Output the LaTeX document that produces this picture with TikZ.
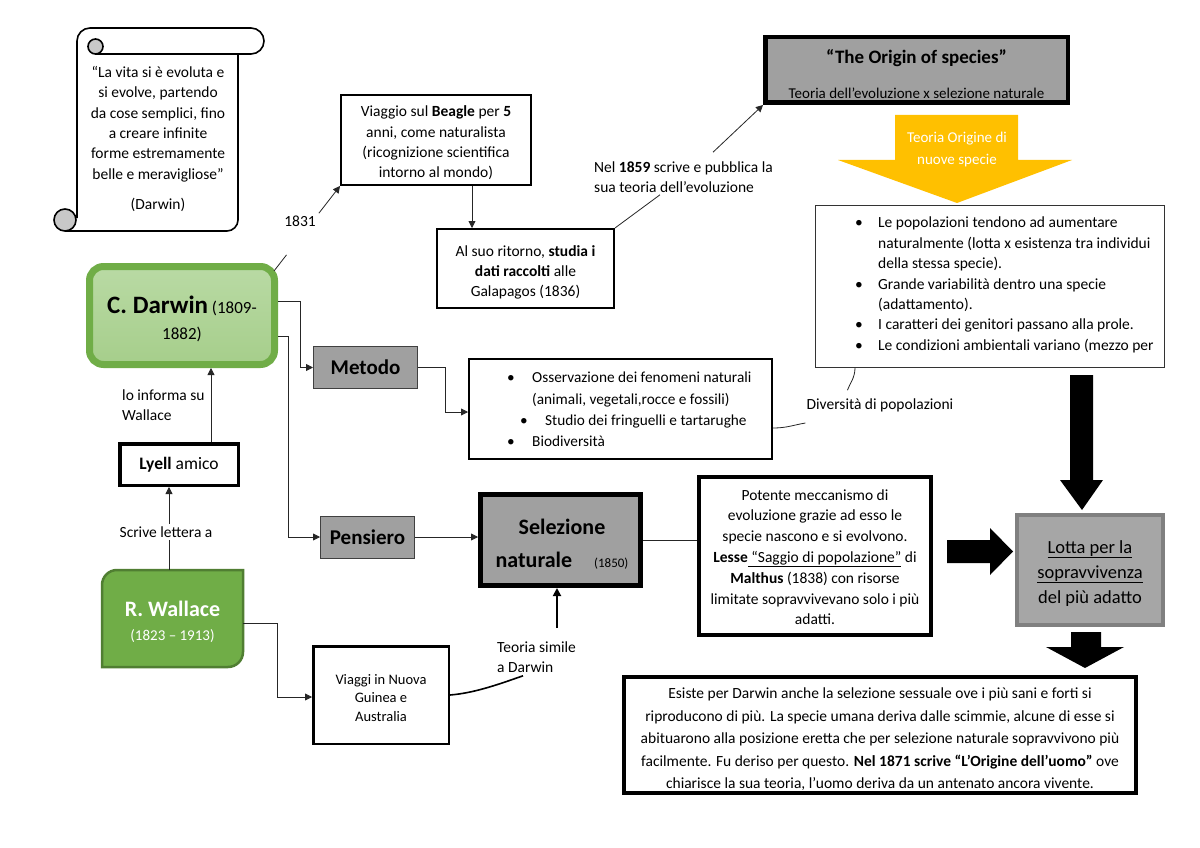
\documentclass[tikz,border=0pt]{standalone}
\usepackage{fontspec}
\setmainfont{Carlito}
\usetikzlibrary{arrows.meta,calc}
\definecolor{dgreen}{HTML}{70AD47}
\definecolor{lgreenT}{HTML}{B9DAA4}
\definecolor{lgreenB}{HTML}{A6CE8B}
\definecolor{wborder}{HTML}{507E32}
\definecolor{boxgray}{HTML}{A0A0A0}
\definecolor{lottagray}{HTML}{A6A6A6}
\definecolor{lottaborder}{HTML}{808080}
\definecolor{ygold}{HTML}{FFC000}
\definecolor{scrollgray}{HTML}{C8C8C8}
\newcommand\fsz[2]{\fontsize{#1}{#2}\selectfont}
\newcommand\bitem[3]{\par\leftskip=#1\relax\hangindent=#2\relax\hangafter=1\relax\noindent\makebox[#2][l]{\textbullet}#3\par}
\newcommand\up[1]{\rule{0pt}{#1}}
\tikzset{
  conn/.style={draw=black!85, line width=0.8pt},
  arr/.style={conn, -{Triangle[length=7pt,width=7pt]}},
  thickarr/.style={draw=black, line width=1.8pt, -{Triangle[length=8pt,width=8pt]}},
  sc/.style={draw=black, line width=1.6pt},
  tbox/.style={draw=black, fill=white, inner sep=0pt, align=center},
  graybox/.style={draw=black!75, line width=1pt, fill=boxgray, inner sep=0pt},
  body/.style={font=\fsz{15.5}{20.3}},
  lbl/.style={font=\fsz{15.5}{20.3}, inner sep=1pt},
  blockarrow/.style={fill=black},
}
\begin{document}
\begin{tikzpicture}[x=1pt,y=-1pt]
\useasboundingbox (0,0) rectangle (1200,848);
\fill[white] (0,0) rectangle (1200,848);

% ---------- scroll ----------
\draw[sc] (96,54) -- (251,54) .. controls (258.2,54) and (264,48.2) .. (264,41)
  .. controls (264,33.8) and (258.2,28) .. (251,28) -- (90,28)
  .. controls (82.8,28) and (77,33.8) .. (77,41) -- (77,218);
\filldraw[sc, fill=scrollgray] (95.5,46.5) circle[radius=7.5];
\draw[sc] (238,54) -- (238,220) .. controls (238,226) and (233,231) .. (227,231) -- (65,231);
\filldraw[sc, fill=scrollgray] (65,220) circle[radius=11];
\node[align=center, font=\fsz{15.5}{20.3}] (quote) at (158,139)
  {“La vita si è evoluta e\\si evolve, partendo\\da cose semplici, fino\\a creare infinite\\forme estremamente\\belle e meravigliose”\\[10pt](Darwin)};

% ---------- Darwin ----------
\node[draw=dgreen, line width=7pt, rounded corners=14pt, top color=lgreenT, bottom color=lgreenB,
      minimum width=185pt, minimum height=98pt, align=center, inner sep=0pt, font=\fsz{17}{26}] (darwin) at (182,315.5)
  {\up{24pt}{\fsz{25}{30}\bfseries C. Darwin} (1809-\\1882)};

% ---------- Wallace ----------
\filldraw[fill=dgreen, draw=wborder, line width=2.5pt]
  (117,570) -- (243,570) -- (243,652) .. controls (243,660.3) and (236.3,667) .. (228,667)
  -- (102,667) -- (102,585) .. controls (102,576.7) and (108.7,570) .. cycle;
\node[minimum width=141pt, minimum height=97pt, inner sep=0pt, outer sep=0pt, align=center, text=white,
      font=\fsz{15}{24}] (wallace) at (172.5,618.5) {\up{22pt}{\fsz{22}{26}\bfseries R. Wallace}\\(1823 – 1913)};

% ---------- Lyell ----------
\node[draw=black, line width=3.5pt, fill=white, minimum width=118.5pt, minimum height=41.5pt,
      inner sep=0pt, font=\fsz{17.5}{21}] (lyell) at (179,464.5) {\textbf{Lyell} amico};
\node[lbl, anchor=west, align=left] (informa) at (121,405.5) {lo informa su\\Wallace};
\draw[arr] (lyell.north -| 211,0) -- (darwin.south -| 211,0);
\draw[arr] (wallace.north -| 169,0) -- (lyell.south -| 169,0);
\node[lbl, fill=white, inner sep=3pt] (scrive) at (166,532) {Scrive lettera a};

% ---------- Beagle / Galapagos ----------
\node[tbox, body, line width=1.6pt, minimum width=190.4pt, minimum height=90.4pt] (beagle) at (436,140)
  {\up{17pt}Viaggio sul \textbf{Beagle} per \textbf{5}\\anni, come naturalista\\(ricognizione scientifica\\intorno al mondo)};
\node[tbox, body, line width=1.6pt, minimum width=177.4pt, minimum height=79.4pt] (galapagos) at (525.5,268.5)
  {\up{19pt}Al suo ritorno, \textbf{studia i}\\\textbf{dati raccolti} alle\\Galapagos (1836)};
\draw[arr] ([xshift=36pt]beagle.south) -- ([xshift=36pt]beagle.south |- galapagos.north);
\node[lbl] (y1831) at (300,221) {1831};
\coordinate (dcorner) at (274,271);
\draw[conn] (dcorner) -- ($(dcorner)!0.19!(beagle.south west)$);
\draw[arr] ($(dcorner)!0.68!(beagle.south west)$) -- (beagle.south west);

% ---------- Origin ----------
\node[draw=black, line width=4.5pt, fill=boxgray, minimum width=302.5pt, minimum height=65.5pt] (origin) at (916.5,70) {};
\node[align=center, inner sep=0pt, font=\fsz{15}{35}] (origintxt) at (916.5,74)
  {{\fsz{19}{23}\bfseries “The Origin of species”}\\Teoria dell’evoluzione x selezione naturale};
\node[lbl, anchor=west, align=left] (nel) at (593,177) {Nel \textbf{1859} scrive e pubblica la\\sua teoria dell’evoluzione};
\draw[arr] ($(nel.north west)+(120,-8)$) -- (origin.south west);
\draw[conn] ($(nel.south west)+(67,1)$) -- (galapagos.north east);

% ---------- yellow arrow ----------
\fill[ygold] (895,115) -- (1018,115) -- (1018,160) -- (1072,160) -- (957,203) -- (838,160) -- (895,160) -- cycle;
\node[align=center, text=white, font=\fsz{15}{22}] (yarrow) at (957,150) {Teoria Origine di\\nuove specie};

% ---------- right bullet box ----------
\node[draw=black!80, line width=1.2pt, fill=white, minimum width=348.8pt, minimum height=161.8pt] (rbox) at (990,286.5) {};
\node[anchor=north west, inner sep=0pt] (rlist) at (855,217)
  {\parbox{310pt}{\raggedright\fsz{15.5}{20.4}%
   \bitem{0pt}{23pt}{Le popolazioni tendono ad aumentare\newline naturalmente (lotta x esistenza tra individui\newline della stessa specie).}%
   \bitem{0pt}{23pt}{Grande variabilità dentro una specie\newline (adattamento).}%
   \bitem{0pt}{23pt}{I caratteri dei genitori passano alla prole.}%
   \bitem{0pt}{23pt}{Le condizioni ambientali variano (mezzo per}}};
\node[lbl] (divers) at (880,405) {Diversità di popolazioni};

% ---------- Metodo ----------
\node[graybox, minimum width=104pt, minimum height=42pt, font=\fsz{21}{25}\bfseries] (metodo) at (365.5,367.5) {Metodo};
\node[graybox, minimum width=94pt, minimum height=42pt, font=\fsz{21}{25}\bfseries] (pensiero) at (367.5,537) {Pensiero};
\node[draw=black, line width=1.6pt, fill=white, minimum width=303.4pt, minimum height=100.4pt] (mlist) at (620.5,409) {};
\node[anchor=north west, inner sep=0pt] (mlisttxt) at (507,372)
  {\parbox{260pt}{\raggedright\fsz{15.3}{21.3}%
   \bitem{0pt}{25pt}{Osservazione dei fenomeni naturali\newline (animali, vegetali,rocce e fossili)}%
   \bitem{13pt}{25pt}{Studio dei fringuelli e tartarughe}%
   \bitem{0pt}{25pt}{Biodiversità}}};

\draw[arr] (darwin.east |- 0,301) -| ($(metodo.west)+(-13,0)$) -- (metodo.west);
\draw[arr] (darwin.east |- 0,336) -| ($(pensiero.west)+(-32,0)$) -- (pensiero.west);
\draw[arr] (metodo.east) -| ($(mlist.west |- 0,412)+(-23,0)$) -- (mlist.west |- 0,412);
\draw[conn] ($(rbox.south west)+(40,0)$) .. controls +(0,10) and +(2,-6) .. ($(divers.north west)+(42,-7)$);
\draw[conn] ($(divers.west)+(0,18)$) .. controls +(-12,2) and +(14,0) .. (mlist.east |- 0,428);

% ---------- Selezione ----------
\node[draw=black, line width=5pt, fill=boxgray, minimum width=160pt, minimum height=91pt] (selezione) at (560.5,540) {};
\node[align=center, inner sep=0pt, font=\fsz{22}{33}\bfseries] (seltxt) at (562,544.5)
  {Selezione\\naturale\hspace{22pt}{\mdseries\fsz{13}{16}(1850)}};
\draw[arr] (pensiero.east) -- (selezione.west |- pensiero.east);

\node[tbox, body, line width=4pt, minimum width=232pt, minimum height=158pt, font=\fsz{15.5}{20.8}] (potente) at (815,556)
  {\up{13pt}Potente meccanismo di\\evoluzione grazie ad esso le\\specie nascono e si evolvono.\\\textbf{Lesse}\underline{\ “Saggio di popolazione”} di\\\textbf{Malthus} (1838) con risorse\\limitate sopravvivevano solo i più\\adatti.};
\draw[conn] (selezione.east) -- (potente.west |- selezione.east);

% ---------- Lotta ----------
\node[draw=lottaborder, line width=4pt, fill=lottagray, minimum width=146pt, minimum height=110pt,
      align=center, font=\fsz{18.5}{25}] (lotta) at (1090,570)
  {\up{19pt}\underline{Lotta per la}\\\underline{sopravvivenza}\\del più adatto};
\fill[blockarrow] (1070,375) -- (1093,375) -- (1093,480) -- (1103,480) -- (1082,510) -- (1060,480) -- (1070,480) -- cycle;
\fill[blockarrow] (947,540) -- (990,540) -- (990,528) -- (1013,551.5) -- (990,575) -- (990,563) -- (947,563) -- cycle;
\fill[blockarrow] (1071,632) -- (1101,632) -- (1101,647) -- (1124,647) -- (1085,668) -- (1046,647) -- (1071,647) -- cycle;

% ---------- bottom box ----------
\node[tbox, line width=4pt, minimum width=512pt, minimum height=116pt, font=\fsz{15.5}{22.5}] (bottom) at (880,735)
  {\up{19pt}Esiste per Darwin anche la selezione sessuale ove i più sani e forti si\\riproducono di più. La specie umana deriva dalle scimmie, alcune di esse si\\abituarono alla posizione eretta che per selezione naturale sopravvivono più\\facilmente. Fu deriso per questo. \textbf{Nel 1871 scrive “L’Origine dell’uomo”} ove\\chiarisce la sua teoria, l’uomo deriva da un antenato ancora vivente.};

% ---------- Viaggi ----------
\node[tbox, line width=2.5pt, minimum width=135.5pt, minimum height=97.5pt, font=\fsz{14.5}{18.5}] (viaggi) at (381,695)
  {\up{15.5pt}Viaggi in Nuova\\Guinea e\\Australia};
\draw[arr] (wallace.east |- 0,623) -| ($(viaggi.west |- 0,697)+(-35,0)$) -- (viaggi.west |- 0,697);
\node[lbl, anchor=west, align=left] (teoria) at (496,657) {Teoria simile\\a Darwin};
\draw[draw=black, line width=1.6pt] (viaggi.east) .. controls +(25,-2) and +(-23,8) .. ($(teoria.south west)+(27,2)$);
\draw[thickarr] ($(selezione.south -| 557,0)+(0,40)$) -- (selezione.south -| 557,0);
\end{tikzpicture}
\end{document}
